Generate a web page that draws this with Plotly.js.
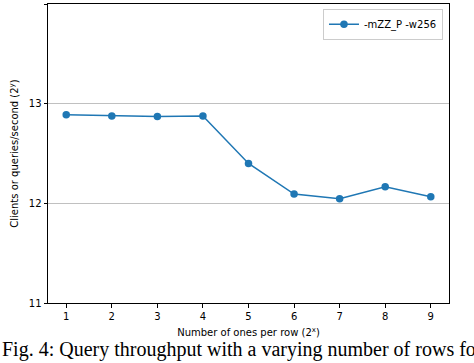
<!DOCTYPE html>
<html>
<head>
<meta charset="utf-8">
<script src="https://cdn.plot.ly/plotly-3.0.1.min.js"></script>
<style>html,body{margin:0;padding:0;background:#fff;}#chart{width:474px;height:363px;}</style>
</head>
<body>
<div id="chart"></div>
<script>
const onesPerRowExp = [1, 2, 3, 4, 5, 6, 7, 8, 9];
const throughputExp = [12.89, 12.877, 12.87, 12.877, 12.40, 12.093, 12.047, 12.167, 12.067];
const seriesName = "-mZZ_P -w256";
const yTicks = [11, 12, 13, 14];
const xTicks = [1, 2, 3, 4, 5, 6, 7, 8, 9];
const captionText = "Fig. 4: Query throughput with a varying number of rows for";

const trace = {
  x: onesPerRowExp,
  y: throughputExp,
  name: seriesName,
  type: "scatter",
  mode: "lines+markers",
  line: {color: "#1f77b4", width: 1.5},
  marker: {color: "#1f77b4", size: 7.5},
  showlegend: true
};

const layout = {
  width: 474, height: 363,
  margin: {l: 48, r: 25, t: 4, b: 60},
  paper_bgcolor: "#fff", plot_bgcolor: "#fff",
  font: {family: "DejaVu Sans", size: 10, color: "#000"},
  xaxis: {
    range: [0.6, 9.4], tickvals: xTicks, ticktext: xTicks.map(String),
    showgrid: false, zeroline: false, showline: true, linecolor: "#000", linewidth: 1,
    mirror: true, ticks: "outside", ticklen: 3.5, tickcolor: "#000",
    tickfont: {family: "DejaVu Sans", size: 10},
    title: {text: "Number of ones per row (2<sup>x</sup>)", font: {family: "DejaVu Sans", size: 10}, standoff: 8}
  },
  yaxis: {
    range: [11, 14], tickvals: yTicks, ticktext: yTicks.map(String),
    showgrid: true, gridcolor: "#b0b0b0", gridwidth: 0.8, zeroline: false,
    showline: true, linecolor: "#000", linewidth: 1, mirror: true,
    ticks: "outside", ticklen: 3.5, tickcolor: "#000",
    tickfont: {family: "DejaVu Sans", size: 10},
    title: {text: "Clients or queries/second (2<sup>y</sup>)", font: {family: "DejaVu Sans", size: 10}, standoff: 8}
  },
  legend: {
    x: 0.985, y: 0.984, xanchor: "right", yanchor: "top",
    bgcolor: "rgba(255,255,255,0.8)", bordercolor: "#cccccc", borderwidth: 1,
    font: {family: "DejaVu Sans", size: 10}
  },
  annotations: [{
    text: captionText, xref: "paper", yref: "paper", x: -0.12, y: -0.11,
    xanchor: "left", yanchor: "top", showarrow: false,
    font: {family: "Liberation Serif", size: 20, color: "#000"}
  }]
};

Plotly.newPlot("chart", [trace], layout, {displayModeBar: false, staticPlot: true});
</script>
</body>
</html>
